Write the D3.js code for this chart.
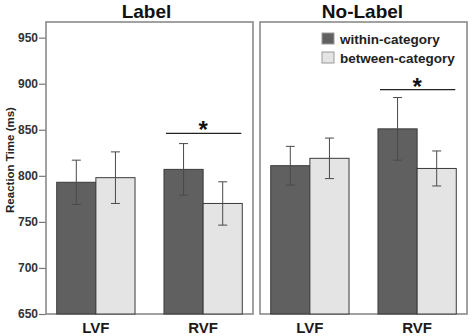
<!DOCTYPE html>
<html>
<head>
<meta charset="utf-8">
<script src="https://cdn.jsdelivr.net/npm/d3@7"></script>
<style>
  body { margin: 0; background: #fff; }
  svg { display: block; font-family: "Liberation Sans", Arial, sans-serif; }
</style>
</head>
<body>
<div id="chart"></div>
<script>
// condition panels and visual fields
var panels = ["Label", "No-Label"];
var fields = ["LVF", "RVF"];
var seriesNames = ["within-category", "between-category"];

// mean reaction time (ms), per panel, per field
var withinMeans = [[793, 807], [811, 851]];
var betweenMeans = [[798, 770], [819, 808]];
// error bar half-widths (ms)
var withinErr = [[24, 28], [21, 34]];
var betweenErr = [[28, 23.5], [22, 19]];

// significance bracket height per panel, drawn over RVF
var sigLevel = [846, 893.5];

var yTicks = [650, 700, 750, 800, 850, 900, 950];

var width = 474, height = 336;
var panelLeft = [46, 260], panelW = 207, plotTop = 22, plotBottom = 314;
var colors = ["#606060", "#e4e4e4"];

var svg = d3.select("#chart").append("svg").attr("width", width).attr("height", height);

var y = d3.scaleLinear().domain([650, 967]).range([plotBottom, plotTop]);
var x0 = d3.scaleBand().domain(fields).range([0, panelW]).paddingInner(0.27).paddingOuter(0.1);
var x1 = d3.scaleBand().domain(seriesNames).range([0, x0.bandwidth()]);

// y axis on the left panel
var yAxis = svg.append("g")
    .attr("transform", "translate(" + panelLeft[0] + ",0)")
    .call(d3.axisLeft(y).tickValues(yTicks).tickSize(7).tickPadding(1));
yAxis.select(".domain").remove();
yAxis.selectAll("line").attr("stroke", "#777").attr("stroke-width", 1.2);
yAxis.selectAll("text").attr("font-size", 12).attr("font-weight", "bold").attr("fill", "#333")
    .attr("font-family", "Liberation Sans, Arial, sans-serif");

svg.append("text")
    .attr("transform", "translate(14," + 160 + ") rotate(-90)")
    .attr("text-anchor", "middle")
    .attr("font-size", 11.5).attr("font-weight", "bold").attr("fill", "#222")
    .text("Reaction Time (ms)");

panels.forEach(function (p, pi) {
    var g = svg.append("g").attr("transform", "translate(" + panelLeft[pi] + ",0)");

    g.append("rect")
        .attr("x", 0).attr("y", plotTop).attr("width", panelW).attr("height", plotBottom - plotTop)
        .attr("fill", "none").attr("stroke", "#8a8a8a").attr("stroke-width", 1.6);

    var rows = [];
    fields.forEach(function (f, fi) {
        rows.push({ field: f, s: 0, v: withinMeans[pi][fi], e: withinErr[pi][fi] });
        rows.push({ field: f, s: 1, v: betweenMeans[pi][fi], e: betweenErr[pi][fi] });
    });

    var bx = function (d) { return x0(d.field) + x1(seriesNames[d.s]); };

    g.selectAll(".bar").data(rows).enter().append("rect")
        .attr("class", "bar")
        .attr("x", bx)
        .attr("y", function (d) { return y(d.v); })
        .attr("width", x1.bandwidth())
        .attr("height", function (d) { return plotBottom - y(d.v); })
        .attr("fill", function (d) { return colors[d.s]; })
        .attr("stroke", "#3a3a3a").attr("stroke-width", 1);

    var eb = g.selectAll(".err").data(rows).enter().append("g").attr("class", "err")
        .attr("stroke", "#4a4a4a").attr("stroke-width", 1);
    eb.append("line")
        .attr("x1", function (d) { return bx(d) + x1.bandwidth() / 2; })
        .attr("x2", function (d) { return bx(d) + x1.bandwidth() / 2; })
        .attr("y1", function (d) { return y(d.v + d.e); })
        .attr("y2", function (d) { return y(d.v - d.e); });
    [1, -1].forEach(function (sign) {
        eb.append("line")
            .attr("x1", function (d) { return bx(d) + x1.bandwidth() / 2 - 4.5; })
            .attr("x2", function (d) { return bx(d) + x1.bandwidth() / 2 + 4.5; })
            .attr("y1", function (d) { return y(d.v + sign * d.e); })
            .attr("y2", function (d) { return y(d.v + sign * d.e); });
    });

    // significance bracket over RVF
    var sx = x0("RVF");
    g.append("line")
        .attr("x1", sx + 2).attr("x2", sx + x0.bandwidth() - 1)
        .attr("y1", y(sigLevel[pi])).attr("y2", y(sigLevel[pi]))
        .attr("stroke", "#222").attr("stroke-width", 1.3);
    g.append("text")
        .attr("x", sx + x0.bandwidth() / 2).attr("y", y(sigLevel[pi]) + 5)
        .attr("text-anchor", "middle")
        .attr("font-size", 24).attr("font-weight", "bold").attr("fill", "#111")
        .text("*");

    g.append("text")
        .attr("x", panelW / 2 + (pi === 0 ? -3 : -1)).attr("y", 18)
        .attr("text-anchor", "middle")
        .attr("font-size", 19).attr("font-weight", "bold").attr("fill", "#111")
        .text(p);

    g.selectAll(".xl").data(fields).enter().append("text")
        .attr("x", function (d) { return x0(d) + x0.bandwidth() / 2; })
        .attr("y", 333)
        .attr("text-anchor", "middle")
        .attr("font-size", 15).attr("font-weight", "bold").attr("fill", "#1a1a1a")
        .text(function (d) { return d; });
});

// legend inside the right panel
var lg = svg.append("g").attr("transform", "translate(322,33)");
seriesNames.forEach(function (s, i) {
    lg.append("rect")
        .attr("x", 0).attr("y", i * 19).attr("width", 12).attr("height", 11)
        .attr("fill", colors[i]).attr("stroke", "#999").attr("stroke-width", 1);
    lg.append("text")
        .attr("x", 18).attr("y", i * 19 + 10.5)
        .attr("font-size", 13.5).attr("font-weight", "bold").attr("fill", "#222")
        .text(s);
});
</script>
</body>
</html>
